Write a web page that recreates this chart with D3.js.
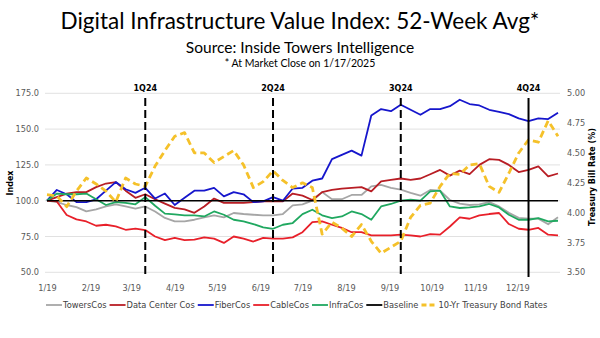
<!DOCTYPE html>
<html>
<head>
<meta charset="utf-8">
<script src="https://cdn.jsdelivr.net/npm/d3@7"></script>
<style>
  body { margin: 0; background: #fff; }
  svg { display: block; }
  .tick text { font-family: "DejaVu Sans", Verdana, sans-serif; font-size: 8.2px; fill: #595959; }
</style>
</head>
<body>
<svg width="600" height="338"></svg>
<script>
const svg = d3.select("svg");

// weekly closes, 1/19/2024 .. 1/17/2025
const weeks = d3.timeFriday.range(new Date(2024, 0, 19), new Date(2025, 0, 18));

const towersCos = [100, 99, 97, 95.5, 92.5, 94, 96, 97.5, 96, 94.5, 96, 92.5, 88, 85.5, 85.5, 86.7, 88.4, 89.8, 88.4, 91.4, 90.7, 90.2, 89.8, 89.8, 90.7, 96.7, 97.5, 100, 106, 101, 101, 104, 104, 110, 111, 109, 107.7, 105.5, 103.5, 107.5, 107, 100.5, 98, 97, 97.5, 99, 96, 91.5, 88, 87.5, 87.5, 83.5, 88.5];
const dataCenterCos = [100, 102.5, 105, 106, 106, 109.5, 112, 113, 107, 102, 104.5, 101, 98, 95, 94, 91.5, 96, 101.5, 98.5, 98.5, 98.5, 99, 99.5, 99.5, 99.5, 105, 103.5, 100.5, 106, 107.5, 108.5, 109, 109.5, 106.5, 113.5, 114.5, 115.5, 114.5, 115.5, 118.5, 121.5, 117.5, 121, 118.5, 125, 129, 128.5, 125, 120, 121.5, 124, 117, 119];
const fiberCos = [100, 107.5, 104.5, 99, 99, 101, 107, 113, 108, 105.5, 109, 101.5, 105, 97, 102, 107, 107, 109, 103, 106, 104.5, 99, 99.5, 102.5, 100, 108.5, 109, 114, 115.5, 129, 132, 135, 131.5, 159.5, 164, 162.5, 167, 163.5, 160, 164, 164, 166, 170.5, 167.5, 166.5, 163.5, 162, 160.5, 157.5, 155.5, 157.5, 157, 161.5];
const cableCos = [100, 99.5, 90, 87, 85.5, 82.5, 83.2, 82, 79.7, 80.5, 79.5, 75, 72.5, 74, 72.5, 72.8, 74.4, 73.5, 70.5, 75, 73.5, 71.5, 74, 73.5, 73.5, 74.4, 78, 85, 85.5, 83.2, 81, 78, 78, 75.8, 75.8, 75.8, 76.3, 75.8, 75, 76.7, 76.3, 82, 88.4, 87.4, 89.8, 90.7, 91.4, 83.7, 80.4, 79.7, 81, 76.3, 75.8];
const infraCos = [100, 105, 104.5, 104.5, 105, 101, 97, 99, 98.5, 97.5, 102.5, 96.5, 91, 90.5, 89.8, 89.8, 89, 92.5, 90.2, 86.7, 85.6, 83.7, 81.4, 80.4, 83.2, 84.4, 90.6, 93.7, 89.8, 87.9, 89, 92.5, 90.7, 86.7, 96, 97.7, 100, 100.7, 100, 106.5, 107, 96, 94.9, 95.3, 96, 97.7, 95.3, 90.2, 86.7, 86.7, 87.9, 85.6, 86];
const baseline = 100;
const treasury10y = [4.15, 4.14, 4.05, 4.18, 4.29, 4.24, 4.18, 4.09, 4.29, 4.24, 4.22, 4.39, 4.52, 4.64, 4.67, 4.50, 4.50, 4.42, 4.47, 4.52, 4.40, 4.21, 4.26, 4.35, 4.27, 4.21, 4.25, 4.21, 3.82, 3.92, 3.87, 3.80, 3.90, 3.76, 3.66, 3.71, 3.76, 3.96, 4.06, 4.08, 4.22, 4.33, 4.32, 4.40, 4.41, 4.22, 4.17, 4.33, 4.50, 4.61, 4.59, 4.77, 4.64];

const tickDates = ["2024-01-19", "2024-02-19", "2024-03-19", "2024-04-19", "2024-05-19", "2024-06-19", "2024-07-19", "2024-08-19", "2024-09-19", "2024-10-19", "2024-11-19", "2024-12-19"];
const tickLabels = ["1/19", "2/19", "3/19", "4/19", "5/19", "6/19", "7/19", "8/19", "9/19", "10/19", "11/19", "12/19"];
const indexTicks = [50, 75, 100, 125, 150, 175];
const rateTicks = [3.5, 3.75, 4.0, 4.25, 4.5, 4.75, 5.0];
const quarterLabels = ["1Q24", "2Q24", "3Q24", "4Q24"];
const quarterDates = ["2024-03-29", "2024-06-28", "2024-09-27", "2024-12-27"];

const parse = d3.timeParse("%Y-%m-%d");

const x = d3.scaleTime().domain([weeks[0], weeks[weeks.length - 1]]).range([47, 558]);
const y = d3.scaleLinear().domain([50, 175]).range([272.3, 93.3]);
const yR = d3.scaleLinear().domain([3.5, 5]).range([272.3, 93.3]);

// titles
svg.append("text").attr("x", 300).attr("y", 29).attr("text-anchor", "middle")
  .style("font-family", "Lato, sans-serif").style("font-size", "22.5px").attr("fill", "#000")
  .text("Digital Infrastructure Value Index: 52-Week Avg*");
svg.append("text").attr("x", 300).attr("y", 53).attr("text-anchor", "middle")
  .style("font-family", "Lato, sans-serif").style("font-size", "15.5px").attr("fill", "#000")
  .text("Source: Inside Towers Intelligence");
svg.append("text").attr("x", 300).attr("y", 67).attr("text-anchor", "middle")
  .style("font-family", "Lato, sans-serif").style("font-size", "10.5px").attr("fill", "#000")
  .text("* At Market Close on 1/17/2025");

// gridlines
svg.append("g").selectAll("line").data(indexTicks).enter().append("line")
  .attr("x1", 45).attr("x2", 560)
  .attr("y1", d => y(d)).attr("y2", d => y(d))
  .attr("stroke", "#d9d9d9").attr("stroke-width", 0.8);

// axes
const gL = svg.append("g").attr("transform", "translate(41,0)")
  .call(d3.axisLeft(y).tickValues(indexTicks).tickFormat(d3.format(".1f")).tickSize(0));
gL.select(".domain").remove();
gL.selectAll("text").attr("x", -2);

const gR = svg.append("g").attr("transform", "translate(564,0)")
  .call(d3.axisRight(yR).tickValues(rateTicks).tickFormat(d3.format(".2f")).tickSize(0));
gR.select(".domain").remove();
gR.selectAll("text").attr("x", 3);

const gB = svg.append("g").attr("transform", "translate(0,279)")
  .call(d3.axisBottom(x).tickValues(tickDates.map(parse)).tickFormat((d, i) => tickLabels[i]).tickSize(0));
gB.select(".domain").remove();
gB.selectAll("text").attr("y", 6);

svg.append("text").attr("transform", "translate(13,183) rotate(-90)").attr("text-anchor", "middle")
  .style("font-family", "DejaVu Sans, sans-serif").style("font-size", "8px").style("font-weight", "bold")
  .attr("fill", "#000").text("Index");
svg.append("text").attr("transform", "translate(595,177) rotate(-90)").attr("text-anchor", "middle")
  .style("font-family", "DejaVu Sans, sans-serif").style("font-size", "8px").style("font-weight", "bold")
  .attr("fill", "#000").text("Treasury Bill Rate (%)");

// series
const series = [
  { name: "TowersCos", values: towersCos, color: "#a6a6a6" },
  { name: "Data Center Cos", values: dataCenterCos, color: "#b81d24" },
  { name: "FiberCos", values: fiberCos, color: "#1616cc" },
  { name: "CableCos", values: cableCos, color: "#e8202a" },
  { name: "InfraCos", values: infraCos, color: "#20a860" }
];

const line = d3.line().x((d, i) => x(weeks[i])).y(d => y(d));
const lineR = d3.line().x((d, i) => x(weeks[i])).y(d => yR(d));

series.forEach(s => {
  svg.append("path").datum(s.values)
    .attr("d", line).attr("fill", "none")
    .attr("stroke", s.color).attr("stroke-width", 1.8).attr("stroke-linejoin", "round");
});

svg.append("line")
  .attr("x1", x(weeks[0])).attr("x2", x(weeks[weeks.length - 1]))
  .attr("y1", y(baseline)).attr("y2", y(baseline))
  .attr("stroke", "#000").attr("stroke-width", 1.4);

svg.append("path").datum(treasury10y)
  .attr("d", lineR).attr("fill", "none")
  .attr("stroke", "#f5c12a").attr("stroke-width", 2.8)
  .attr("stroke-dasharray", "7,4").attr("stroke-linejoin", "round");

// quarter markers
quarterDates.forEach((q, i) => {
  const qx = x(parse(q));
  svg.append("line").attr("x1", qx).attr("x2", qx).attr("y1", 98).attr("y2", 277)
    .attr("stroke", "#000").attr("stroke-width", 2)
    .attr("stroke-dasharray", i === quarterDates.length - 1 ? null : "8,4");
  svg.append("text").attr("x", qx).attr("y", 91).attr("text-anchor", "middle")
    .style("font-family", "DejaVu Sans, sans-serif").style("font-size", "8px").style("font-weight", "bold")
    .attr("fill", "#000").text(quarterLabels[i]);
});

// legend
const legendItems = series.concat([
  { name: "Baseline", color: "#000" },
  { name: "10-Yr Treasury Bond Rates", color: "#f5c12a", dashed: true }
]);
let lx = 46;
const ly = 305;
legendItems.forEach(item => {
  svg.append("line").attr("x1", lx).attr("x2", lx + 16).attr("y1", ly).attr("y2", ly)
    .attr("stroke", item.color).attr("stroke-width", item.dashed ? 2.8 : 1.8)
    .attr("stroke-dasharray", item.dashed ? "5,3" : null);
  const t = svg.append("text").attr("x", lx + 17).attr("y", ly + 3)
    .style("font-family", "DejaVu Sans, sans-serif").style("font-size", "8.3px")
    .attr("fill", "#404040").text(item.name);
  lx += 17 + t.node().getComputedTextLength() + 3;
});
</script>
</body>
</html>
